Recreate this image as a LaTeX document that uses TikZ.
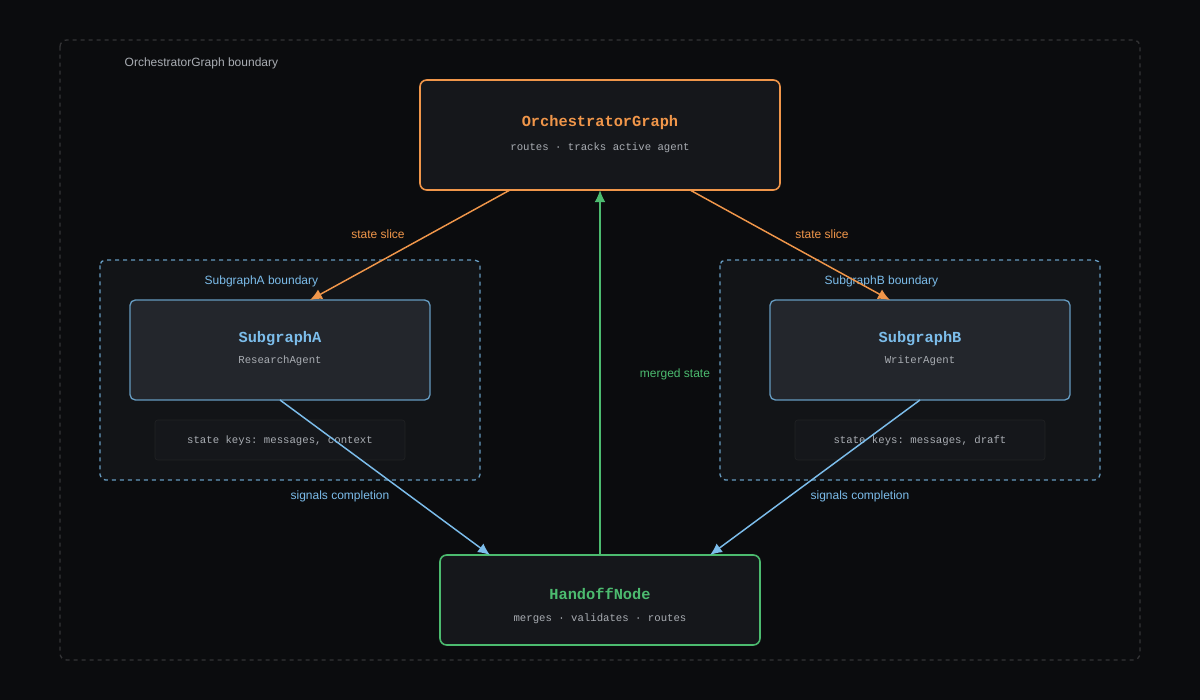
\documentclass[tikz,border=0pt]{standalone}
\usepackage{fontspec}
\setmainfont{Liberation Sans}
\setmonofont{Liberation Mono}
\usetikzlibrary{arrows.meta}
\definecolor{bg}{HTML}{0B0C0E}
\definecolor{orng}{HTML}{F0964A}
\definecolor{blu}{HTML}{7CBDEB}
\definecolor{grn}{HTML}{4CBB6F}
\definecolor{gtxt}{HTML}{A9ADB3}
\definecolor{boxfill}{HTML}{15171B}
\definecolor{subfill}{HTML}{23262C}
\begin{document}
\begin{tikzpicture}[x=0.75pt,y=-0.75pt,
  lbl/.style={font=\fontsize{9}{10}\selectfont},
  ttl/.style={font=\fontsize{11.5}{13}\selectfont\ttfamily\bfseries},
  sub/.style={font=\fontsize{8}{9}\selectfont\ttfamily,text=gtxt},
  arr/.style={line width=1.1pt,-{Latex[length=9pt,width=8pt]}}]
\fill[bg] (0,0) rectangle (1200,700);
\useasboundingbox (0,0) rectangle (1200,700);
\draw[draw=gray!35!bg, dashed, line width=1pt, rounded corners=5pt] (60,40) rectangle (1140,660);
\node[lbl,text=gtxt,anchor=west] (lo) at (120,63) {OrchestratorGraph boundary};
% orchestrator
\draw[orng, fill=boxfill, line width=1.2pt, rounded corners=5pt] (420,80) rectangle (780,190);
\node (orc) at (600,135) [minimum width=360pt*0.75, minimum height=110*0.75pt] {};
\node[ttl,text=orng] (ot) at (600,123) {OrchestratorGraph};
\node[sub] (os) at (600,148) {routes · tracks active agent};
% subgraph A
\draw[blu!80!bg, fill=boxfill!70!bg, dashed, line width=1pt, rounded corners=4pt] (100,260) rectangle (480,480);
\node[lbl,text=blu,anchor=west] (la) at (200,281) {SubgraphA boundary};
\draw[blu!80!bg, fill=subfill, line width=1pt, rounded corners=4pt] (130,300) rectangle (430,400);
\node[ttl,text=blu] (at) at (280,339) {SubgraphA};
\node[sub] (as) at (280,361) {ResearchAgent};
\draw[gray!20!bg, fill=boxfill, rounded corners=2pt] (155,420) rectangle (405,460);
\node[sub] (ak) at (280,441) {state keys: messages, context};
% subgraph B
\draw[blu!80!bg, fill=boxfill!70!bg, dashed, line width=1pt, rounded corners=4pt] (720,260) rectangle (1100,480);
\node[lbl,text=blu,anchor=west] (lb) at (820,281) {SubgraphB boundary};
\draw[blu!80!bg, fill=subfill, line width=1pt, rounded corners=4pt] (770,300) rectangle (1070,400);
\node[ttl,text=blu] (bt) at (920,339) {SubgraphB};
\node[sub] (bs) at (920,361) {WriterAgent};
\draw[gray!20!bg, fill=boxfill, rounded corners=2pt] (795,420) rectangle (1045,460);
\node[sub] (bk) at (920,441) {state keys: messages, draft};
% handoff
\draw[grn, fill=boxfill, line width=1.2pt, rounded corners=5pt] (440,555) rectangle (760,645);
\node[ttl,text=grn] (ht) at (600,594) {HandoffNode};
\node[sub] (hs) at (600,619) {merges · validates · routes};
% connectors
\coordinate (o1) at (510,190); \coordinate (a1) at (310,300);
\coordinate (o2) at (690,190); \coordinate (b1) at (890,300);
\coordinate (h1) at (600,555); \coordinate (o3) at (600,190);
\coordinate (a2) at (280,400); \coordinate (h2) at (490,555);
\coordinate (b2) at (920,400); \coordinate (h3) at (710,555);
\draw[arr,orng] (o1) -- (a1);
\draw[arr,orng] (o2) -- (b1);
\draw[arr,grn] (h1) -- (o3);
\draw[arr,blu] (a2) -- (h2);
\draw[arr,blu] (b2) -- (h3);
\node[lbl,text=orng] (l1) at (378,234) {state slice};
\node[lbl,text=orng] (l2) at (822,234) {state slice};
\node[lbl,text=grn] (l3) at (675,374) {merged state};
\node[lbl,text=blu] (l4) at (340,496) {signals completion};
\node[lbl,text=blu] (l5) at (860,496) {signals completion};
\end{tikzpicture}
\end{document}
